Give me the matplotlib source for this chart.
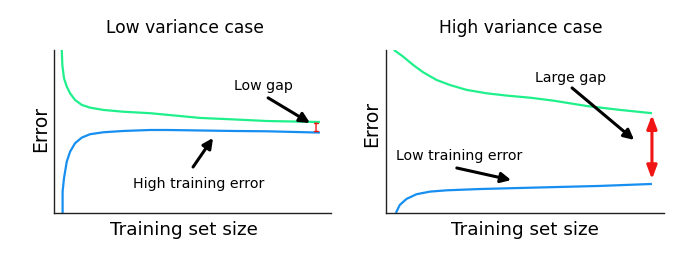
import matplotlib
matplotlib.use("Agg")
import matplotlib.pyplot as plt

# ---------------------------------------------------------------
# Curve data (arbitrary units, axes span 0..10 on both axes)
# ---------------------------------------------------------------
low_val_x = [0.28, 0.30, 0.36, 0.46, 0.58, 0.76, 1.00, 1.30, 1.78, 2.50, 3.47,
             5.27, 6.46, 7.69, 9.60]
low_val_y = [10.0, 9.08, 8.26, 7.75, 7.34, 6.93, 6.63, 6.46, 6.32, 6.21, 6.12,
             5.83, 5.74, 5.64, 5.58]
low_train_x = [0.31, 0.31, 0.36, 0.46, 0.58, 0.76, 1.00, 1.30, 1.78, 2.50, 3.47,
               4.08, 6.46, 7.69, 9.60]
low_train_y = [0.0, 1.31, 2.13, 3.15, 3.76, 4.28, 4.62, 4.83, 4.95, 5.03, 5.09,
               5.09, 5.03, 5.01, 4.93]

high_val_x = [0.29, 0.62, 0.98, 1.34, 1.82, 2.30, 2.90, 3.62, 4.34, 5.18,
              6.02, 7.22, 8.42, 9.56]
high_val_y = [10.0, 9.59, 9.08, 8.63, 8.16, 7.85, 7.55, 7.34, 7.20, 7.07,
              6.89, 6.56, 6.32, 6.12]
high_train_x = [0.36, 0.50, 0.74, 1.10, 1.58, 2.18, 3.38, 5.18, 7.70, 9.56]
high_train_y = [0.0, 0.49, 0.86, 1.15, 1.31, 1.39, 1.47, 1.55, 1.66, 1.78]

titles = ["Low variance case", "High variance case"]
xlabel = "Training set size"
ylabel = "Error"

GREEN = "#1ff08c"
BLUE = "#168ff0"
RED = "#f01414"

fig = plt.figure(figsize=(6.89, 2.56), dpi=100)
ax1 = fig.add_axes([0.0784, 0.168, 0.402, 0.637])
ax2 = fig.add_axes([0.560, 0.168, 0.404, 0.637])


def style_axes(ax, title, tx, lx, ly):
    ax.set_xlim(0, 10)
    ax.set_ylim(0, 10)
    ax.set_xticks([])
    ax.set_yticks([])
    for s in ["top", "right"]:
        ax.spines[s].set_visible(False)
    for s in ["left", "bottom"]:
        ax.spines[s].set_linewidth(1.0)
        ax.spines[s].set_color("#222222")
    ax.text(tx, 1.135, title, transform=ax.transAxes, ha="center", va="center", fontsize=12.3)
    ax.text(lx, -0.104, xlabel, transform=ax.transAxes, ha="center", va="center", fontsize=13.2)
    ax.text(-0.05, ly, ylabel, transform=ax.transAxes, ha="center", va="center",
            rotation=90, fontsize=13.5)


def arrow(ax, text, txy, tail, head):
    ax.text(txy[0], txy[1], text, ha="center", va="center", fontsize=10.2)
    ax.annotate("", xy=head, xytext=tail,
                arrowprops=dict(arrowstyle="-|>,head_length=0.6,head_width=0.3",
                                color="black", lw=2.2, shrinkA=0, shrinkB=0))


# Low variance panel
ax1.plot(low_val_x, low_val_y, color=GREEN, lw=1.6, solid_capstyle="butt")
ax1.plot(low_train_x, low_train_y, color=BLUE, lw=1.6, solid_capstyle="butt")
ax1.annotate("", xy=(9.46, 5.52), xytext=(9.46, 5.03),
             arrowprops=dict(arrowstyle="|-|,widthA=0.15,widthB=0.15", color=RED,
                             lw=1.0, shrinkA=0, shrinkB=0))
arrow(ax1, "Low gap", (7.55, 7.79), (7.73, 7.06), (9.24, 5.52))
arrow(ax1, "High training error", (5.23, 1.78), (5.02, 2.82), (5.74, 4.60))
style_axes(ax1, titles[0], 0.473, 0.47, 0.515)

# High variance panel
ax2.plot(high_val_x, high_val_y, color=GREEN, lw=1.6, solid_capstyle="butt")
ax2.plot(high_train_x, high_train_y, color=BLUE, lw=1.6, solid_capstyle="butt")
ax2.annotate("", xy=(9.56, 6.01), xytext=(9.56, 2.07),
             arrowprops=dict(arrowstyle="<|-|>,head_length=0.8,head_width=0.3", color=RED,
                             lw=2.2, shrinkA=0, shrinkB=0))
arrow(ax2, "Large gap", (6.65, 8.28), (6.69, 7.67), (8.92, 4.48))
arrow(ax2, "Low training error", (2.63, 3.50), (2.55, 2.76), (4.50, 2.02))
style_axes(ax2, titles[1], 0.486, 0.50, 0.546)

fig.savefig("out.png", dpi=100)
